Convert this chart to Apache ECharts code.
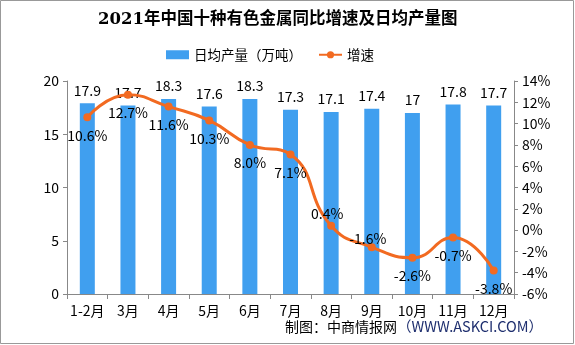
<!DOCTYPE html>
<html><head><meta charset="utf-8">
<script src="https://cdn.jsdelivr.net/npm/echarts@6/dist/echarts.min.js"></script>
<style>html,body{margin:0;padding:0;background:#fff}#c{width:575px;height:345px}</style>
</head><body><div id="c"></div>
<script>
const categories = ['1-2月','3月','4月','5月','6月','7月','8月','9月','10月','11月','12月'];
const output = [17.9,17.7,18.3,17.6,18.3,17.3,17.1,17.4,17,17.8,17.7];
const growth = [10.6,12.7,11.6,10.3,8.0,7.1,0.4,-1.6,-2.6,-0.7,-3.8];
const leftTicks = {min:0,max:20,interval:5};
const rightTicks = {min:-6,max:14,interval:2};

const font = "'Noto Sans CJK SC', sans-serif";
const growthData = growth.map((v,i)=>{
  const d = {value:v};
  if (i===6) d.label = {position:'top', distance:1, offset:[-4,0]};
  if (i===7) d.label = {position:'top', distance:1, offset:[-4,4]};
  return d;
});
const chart = echarts.init(document.getElementById('c'));
chart.setOption({
  animation:false,
  textStyle:{fontFamily:font},
  title:{text:'2021年中国十种有色金属同比增速及日均产量图', left:93, top:6,
    textStyle:{fontSize:16.5, fontWeight:'bold', color:'#000', fontFamily:"'DejaVu Serif','Noto Sans CJK SC',serif"}},
  legend:{left:161, top:43, itemGap:16, itemWidth:23, itemHeight:9,
    textStyle:{fontSize:13.5, color:'#000'},
    data:[{name:'日均产量（万吨）', icon:'rect'},{name:'增速'}]},
  grid:{left:67, right:61, top:81, bottom:51},
  xAxis:{type:'category', data:categories,
    axisLine:{lineStyle:{color:'#888'}},
    axisTick:{show:true, length:5, lineStyle:{color:'#888'}},
    axisLabel:{color:'#000', fontSize:14, margin:10, interval:0}},
  yAxis:[
    {type:'value', min:leftTicks.min, max:leftTicks.max, interval:leftTicks.interval,
     splitLine:{show:false}, axisLine:{show:true, lineStyle:{color:'#888'}},
     axisTick:{show:true, length:4, lineStyle:{color:'#888'}},
     axisLabel:{color:'#000', fontSize:14, margin:8}},
    {type:'value', min:rightTicks.min, max:rightTicks.max, interval:rightTicks.interval,
     splitLine:{show:false}, axisLine:{show:true, lineStyle:{color:'#888'}},
     axisTick:{show:true, length:4, lineStyle:{color:'#888'}},
     axisLabel:{color:'#000', fontSize:14, margin:8, formatter:v=>v+'%'}}
  ],
  series:[
    {name:'日均产量（万吨）', type:'bar', data:output, barWidth:15,
     itemStyle:{color:'#409FEF'},
     label:{show:true, position:'top', distance:6, color:'#000', fontSize:14}},
    {name:'增速', type:'line', yAxisIndex:1, data:growthData, smooth:0.5,
     symbol:'circle', symbolSize:8,
     lineStyle:{color:'#F26A21', width:3}, itemStyle:{color:'#F26A21'},
     label:{show:true, position:'bottom', distance:7, color:'#000', fontSize:14,
       formatter:p=>p.value.toFixed(1)+'%'}}
  ],
  graphic:[
    {type:'rect', shape:{x:0.5,y:0.5,width:573,height:343}, style:{fill:'none', stroke:'#999', lineWidth:1}, silent:true},
    {type:'text', left:285, top:319, style:{rich:{a:{fill:'#000',fontSize:14,fontFamily:font},b:{fill:'#1F2F6F',fontSize:14.5,fontFamily:font}},
      text:'{a|制图：中商情报网}{b|（WWW.ASKCI.COM）}'}}
  ]
});
</script></body></html>
